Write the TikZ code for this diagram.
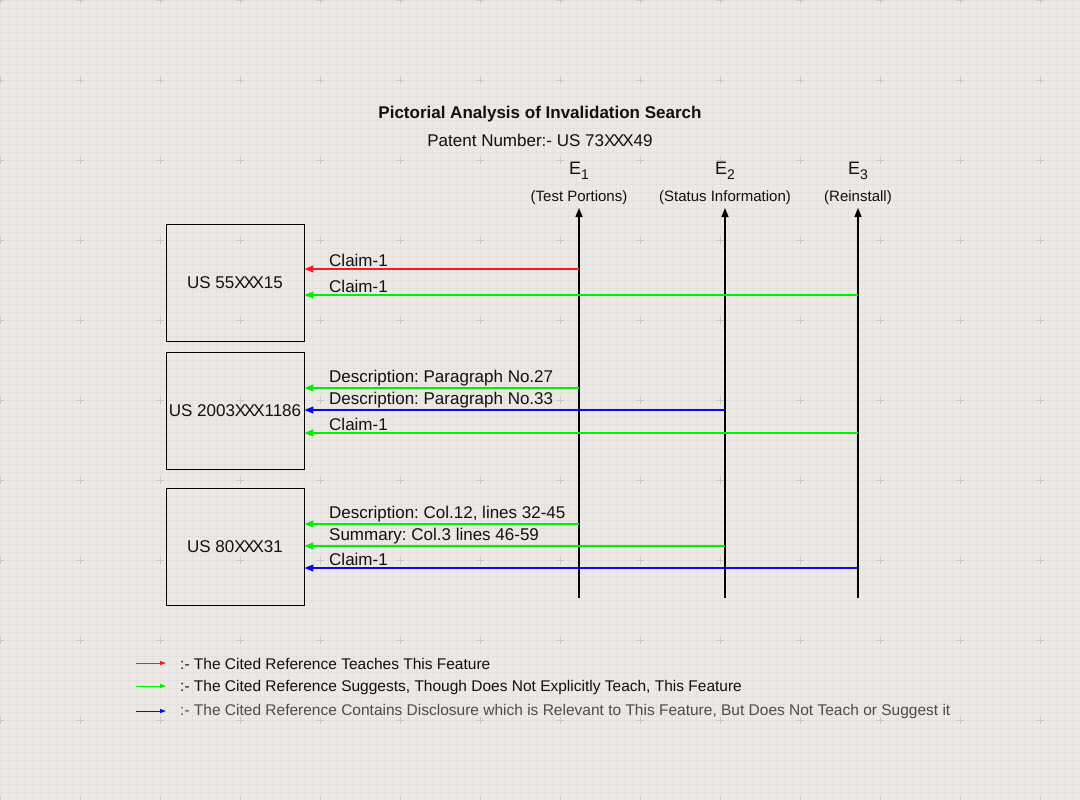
\documentclass[tikz,border=0pt]{standalone}
\usepackage{fontspec}
\setmainfont{Liberation Sans}
\usetikzlibrary{arrows.meta}
\definecolor{bgc}{HTML}{EBE8E5}
\definecolor{gridc}{HTML}{E4E1DE}
\definecolor{plusc}{HTML}{C9C6C3}
\definecolor{txtc}{HTML}{111111}
\definecolor{ared}{HTML}{FF1A1A}
\definecolor{agreen}{HTML}{00F000}
\definecolor{ablue}{HTML}{0A0AF0}
\newcommand\xxx{X\kern-2.2pt X\kern-2.2pt X}
\newcommand\fs[1]{\fontsize{#1}{#1}\selectfont\frenchspacing}
\begin{document}
\begin{tikzpicture}[x=1pt,y=-1pt,
  refbox/.style={draw=black,line width=0.9pt,minimum width=138pt,minimum height=117pt,inner sep=0pt,font=\fs{17},text=txtc},
  lbl/.style={anchor=south west,inner sep=0pt,font=\fs{17},text=txtc},
  life/.style={line width=1.4pt,black,-{Triangle[length=9pt,width=7pt]}},
  cite/.style={line width=1.3pt,-{Triangle[length=9pt,width=7pt]}},
  leg/.style={line width=1pt,-{Triangle[length=6pt,width=4pt]}},
  legtxt/.style={anchor=west,inner sep=0pt,font=\fs{15.5},text=txtc},
  etxt/.style={inner sep=0pt,font=\fs{18},text=txtc},
  esub/.style={inner sep=0pt,font=\fs{15},text=txtc}]
\useasboundingbox (0,0) rectangle (1080,800);
\fill[bgc] (0,0) rectangle (1080,800);
\draw[gridc,line width=0.4pt,step=8pt] (0,0) grid (1080,800);
\foreach \gx in {0,80,...,1080}{
  \foreach \gy in {0,80,...,800}{
    \draw[plusc,line width=0.7pt] (\gx-3.5,\gy) -- (\gx+3.5,\gy) (\gx,\gy-3.5) -- (\gx,\gy+3.5);
  }
}
% titles
\node[inner sep=0pt,font=\fs{17}\bfseries,text=txtc] (title) at (540,114) {Pictorial Analysis of Invalidation Search};
\node[inner sep=0pt,font=\fs{17},text=txtc] (pn) at (540,140) {Patent Number:- US 73\xxx49};
% E headers
\node[etxt] (e1) at (579,171) {E\raisebox{-5pt}{\fs{14}1}};
\node[etxt] (e2) at (725,171) {E\raisebox{-5pt}{\fs{14}2}};
\node[etxt] (e3) at (858,171) {E\raisebox{-5pt}{\fs{14}3}};
\node[esub] (s1) at (579,198) {(Test Portions)};
\node[esub] (s2) at (725,198) {(Status Information)};
\node[esub] (s3) at (858,198) {(Reinstall)};
% lifelines
\coordinate (t1) at (579,208); \coordinate (b1) at (579,598);
\coordinate (t2) at (725,208); \coordinate (b2) at (725,598);
\coordinate (t3) at (858,208); \coordinate (b3) at (858,598);
\draw[life] (b1) -- (t1);
\draw[life] (b2) -- (t2);
\draw[life] (b3) -- (t3);
% boxes
\node[refbox] (r1) at (235,282.5) {US 55\xxx15};
\node[refbox] (r2) at (235,410.5) {US 2003\xxx1186};
\node[refbox] (r3) at (235,546.5) {US 80\xxx31};
% connectors box 1
\coordinate (p11) at (579,269); \coordinate (p12) at (858,295);
\draw[cite,ared] (p11) -- (r1.east |- p11);
\draw[cite,agreen] (p12) -- (r1.east |- p12);
\node[lbl] (l11) at (329,267) {Claim-1};
\node[lbl] (l12) at (329,293) {Claim-1};
% connectors box 2
\coordinate (p21) at (579,388); \coordinate (p22) at (725,410); \coordinate (p23) at (858,433);
\draw[cite,agreen] (p21) -- (r2.east |- p21);
\draw[cite,ablue] (p22) -- (r2.east |- p22);
\draw[cite,agreen] (p23) -- (r2.east |- p23);
\node[lbl] (l21) at (329,386) {Description: Paragraph No.27};
\node[lbl] (l22) at (329,408) {Description: Paragraph No.33};
\node[lbl] (l23) at (329,431) {Claim-1};
% connectors box 3
\coordinate (p31) at (579,524); \coordinate (p32) at (725,546); \coordinate (p33) at (858,568);
\draw[cite,agreen] (p31) -- (r3.east |- p31);
\draw[cite,agreen] (p32) -- (r3.east |- p32);
\draw[cite,ablue] (p33) -- (r3.east |- p33);
\node[lbl] (l31) at (329,522) {Description: Col.12, lines 32-45};
\node[lbl] (l32) at (329,544) {Summary: Col.3 lines 46-59};
\node[lbl] (l33) at (329,566) {Claim-1};
% legend
\coordinate (la1) at (136,663); \coordinate (lb1) at (166,663);
\coordinate (la2) at (136,686); \coordinate (lb2) at (166,686);
\coordinate (la3) at (136,711); \coordinate (lb3) at (166,711);
\draw[leg,ared] (la1) -- (lb1);
\draw[leg,agreen] (la2) -- (lb2);
\draw[leg,ablue] (la3) -- (lb3);
\node[legtxt] (g1) at (180,664) {:- The Cited Reference Teaches This Feature};
\node[legtxt] (g2) at (180,687) {:- The Cited Reference Suggests, Though Does Not Explicitly Teach, This Feature};
\node[legtxt,text=black!70] (g3) at (180,711) {:- The Cited Reference Contains Disclosure which is Relevant to This Feature, But Does Not Teach or Suggest it};
\end{tikzpicture}
\end{document}
